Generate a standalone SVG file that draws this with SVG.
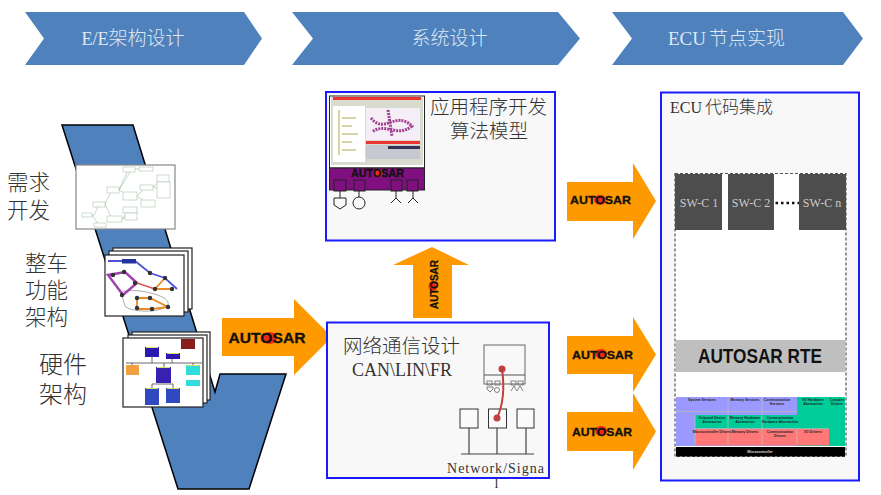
<svg xmlns="http://www.w3.org/2000/svg" width="881" height="495" viewBox="0 0 881 495">
<style>
text{font-family:"Liberation Serif","Noto Sans CJK SC",serif;fill:#333}
.zh{font-family:"Noto Sans CJK SC",sans-serif;font-weight:300}
.head{fill:#dfe8f2;font-size:19px}
.chev{fill:#4f81bd}
.arrow{fill:#ff9900}
.band{fill:#4f81bd;stroke:#000;stroke-width:1.5}
.panel{fill:#f8f8f8;stroke:#1a1aff;stroke-width:2}
.logo{font-family:"Liberation Sans",sans-serif;font-weight:700;fill:#111;stroke:#111;stroke-width:.3}
.swirl{fill:#ee2a1a}
.card{fill:#fff;stroke:#222;stroke-width:1.2}
.sw{fill:#4d4d4d}
.swt{fill:#ccc;font-size:12px}
.g{stroke:#9ab89a;stroke-width:.5;fill:#fff}
.k{stroke:#222;stroke-width:1;fill:none}
.port{stroke:#222;stroke-width:1;fill:#800f80}
.t6{font-size:3.500px;font-family:"Liberation Sans",sans-serif;font-weight:700;fill:#222}
</style>
<rect width="881" height="495" fill="#fff"/>
<g id="header-ee"><path class="chev" d="M25 12H244L262 38.500L244 65H25L44 38.500Z"/><text class="head" x="133" y="45" text-anchor="middle"><tspan font-size="18">E/E</tspan><tspan class="zh">架构设计</tspan></text></g>
<g id="header-sys"><path class="chev" d="M292 12H558L580 38.500L558 65H292L313 38.500Z"/><text class="head zh" x="449.500" y="45" text-anchor="middle">系统设计</text></g>
<g id="header-ecu"><path class="chev" d="M612 12H843L863 38.500L843 65H612L632 38.500Z"/><text class="head" x="668" y="45" font-size="18">ECU</text><text class="head zh" x="709" y="45">节点实现</text></g>

<g id="process-band">
<path class="band" d="M62 125H133L215 392L220 374H286L249 489H178Z"/>
</g>
<g id="req">
<rect x="76" y="165" width="99" height="64" fill="#fff" stroke="#888" stroke-width="1.2"/>
<path d="M92 215H94L99 205M92 215L99 225M105 204L112 190M105 204L112 219M119 190L128 170M119 190L130 196M119 190L130 172M122 219L130 210M122 219L130 216M135 169H139M137 196L146 187M137 196L147 203M153 187L163 178M153 187L163 190" fill="none" stroke="#8fb08f" stroke-width=".5"/>
<rect x="123" y="167" width="12" height="5" class="g"/><rect x="139" y="167" width="14" height="4" class="g"/><rect x="157" y="175" width="12" height="7" class="g"/><rect x="157" y="182" width="13" height="16" class="g"/><rect x="107" y="187" width="12" height="6" class="g"/><rect x="123" y="192" width="14" height="8" class="g"/><rect x="140" y="185" width="13" height="5" class="g"/><rect x="141" y="200" width="14" height="7" class="g"/><rect x="93" y="202" width="12" height="5" class="g"/><rect x="107" y="216" width="15" height="6" class="g"/><rect x="123" y="207" width="14" height="6" class="g"/><rect x="125" y="213" width="12" height="7" class="g"/><rect x="94" y="223" width="12" height="4" class="g"/><rect x="82" y="213" width="10" height="4" class="g"/>
<text class="zh" font-size="21.500"><tspan x="7" y="190">需求</tspan><tspan x="7" y="218">开发</tspan></text>
</g>
<g id="vehicle">
<rect x="113" y="248" width="79" height="61" class="card"/><rect x="109" y="251" width="79" height="61" class="card"/><rect x="105" y="255" width="79" height="61" class="card"/>
<path d="M122 296C118 290 130 290 140 291C155 293 170 298 168 305C160 314 130 312 125 306Z" fill="none" stroke="#aaa" stroke-width="1"/>
<path d="M108 261H135L150 273L165 278L177 289" fill="none" stroke="#5050dd" stroke-width="1.800"/>
<path d="M108 275L125 272L137 283L123 295Z" fill="none" stroke="#a040b0" stroke-width="2.500"/>
<path d="M137 283L155 289" fill="none" stroke="#dd5555" stroke-width="1.500"/>
<path d="M155 289H173M165 278L155 289" fill="none" stroke="#ee8822" stroke-width="1.800"/>
<path d="M137 298H150L168 307L152 309H137Z" fill="none" stroke="#ee8822" stroke-width="1.800"/>
<rect x="122" y="259" width="14" height="4.500" fill="#223399"/>
<g fill="#333"><circle cx="113" cy="275" r="2.200"/><circle cx="124" cy="272" r="2.200"/><circle cx="122" cy="295" r="2.200"/><circle cx="135" cy="283" r="2.200"/><circle cx="150" cy="273" r="2.200"/><circle cx="165" cy="278" r="2.200"/><circle cx="155" cy="289" r="2.200"/><circle cx="172" cy="289" r="2.200"/><circle cx="137" cy="298" r="2.200"/><circle cx="150" cy="298" r="2.200"/><circle cx="137" cy="308" r="2.200"/><circle cx="152" cy="309" r="2.200"/><circle cx="168" cy="307" r="2.200"/></g>
<text class="zh" font-size="21.500"><tspan x="25" y="271">整车</tspan><tspan x="25" y="298">功能</tspan><tspan x="25" y="325">架构</tspan></text>
</g>
<g id="hardware">
<rect x="132" y="332" width="78" height="68" class="card"/><rect x="128" y="335" width="79" height="68" class="card"/><rect x="123" y="338" width="80" height="69" class="card"/>
<path d="M126 363H202M152 363V357M172 363V359M132 363V365M193 363V365M164 363V367M152 388V384H173V388" fill="none" stroke="#444" stroke-width=".8"/>
<rect x="181" y="339" width="14" height="10" fill="#8a1c1c"/><rect x="145" y="347" width="14" height="10" fill="#2a18b0"/><rect x="166" y="353" width="14" height="6" fill="#2a18b0"/><rect x="126" y="365" width="13" height="10" fill="#f0a040"/><rect x="186" y="365" width="14" height="10" fill="#30dddd"/><rect x="186" y="380" width="14" height="6" fill="#30dddd"/><rect x="156" y="367" width="15" height="16" fill="#3a20b0"/><rect x="145" y="388" width="14" height="17" fill="#3048c0"/><rect x="166" y="388" width="14" height="15" fill="#3048c0"/>
<path d="M146 347.500H158M167 353.500H179M146 388.500H158M167 388.500H179M157 367.500H170M187 365.500H199" stroke="#d8e060" stroke-width="1.200"/>
<text class="zh" font-size="24"><tspan x="39" y="373">硬件</tspan><tspan x="39" y="403">架构</tspan></text>
</g>

<g id="arrow-main"><path class="arrow" d="M222 318H294V299L332 337L294 375V356H222Z"/><ellipse class="swirl" cx="270" cy="338" rx="7" ry="6"/><text class="logo" x="228.500" y="343" font-size="14" textLength="77" lengthAdjust="spacingAndGlyphs">AUTOSAR</text></g>

<g id="app-panel">
<rect class="panel" x="326" y="92" width="229" height="148.500"/>
<rect x="329.500" y="96" width="95" height="72" fill="#fff" stroke="#222" stroke-width="1"/>
<rect x="331" y="97" width="92" height="68" fill="#d8dccf"/>
<rect x="333" y="97" width="88" height="3" fill="#e33"/><rect x="333" y="106" width="32" height="56" fill="#fff"/><rect x="366" y="108" width="54" height="32" fill="#f6eef6"/><rect x="366" y="141" width="54" height="3" fill="#e33"/><rect x="366" y="145" width="54" height="14" fill="#c8c8d2"/><rect x="388" y="146" width="32" height="3" fill="#335"/>
<path d="M339 110V155M342 118H356M342 126H352M342 134H358M342 142H352M342 150H356" stroke="#c8c888" stroke-width="1.500"/>
<path d="M371 118C385 135 395 110 412 126C398 138 385 122 372 132M388 110L392 136" fill="none" stroke="#a04090" stroke-width="3" stroke-dasharray="2 1"/>
<rect x="329.500" y="168" width="95" height="22" fill="#800f80" stroke="#222"/>
<ellipse class="swirl" cx="378" cy="173" rx="5" ry="4"/>
<text class="logo" x="351" y="177" font-size="10" textLength="53" lengthAdjust="spacingAndGlyphs">AUTOSAR</text>
<rect class="port" x="334" y="180" width="12" height="11"/><rect class="port" x="354" y="180" width="11" height="11"/><rect class="port" x="391" y="180" width="11" height="11"/><rect class="port" x="407" y="180" width="11" height="11"/>
<path class="k" d="M340 191V198M334 198H346V205L340 209L334 205ZM359 191V197M396 191V198L391 203M396 198L401 203M413 191V198L408 203M413 198L418 203"/><circle class="k" cx="359" cy="203" r="6"/>
<text class="zh" font-size="19.500"><tspan x="430" y="114">应用程序开发</tspan><tspan x="450" y="138">算法模型</tspan></text>
</g>

<g id="arrow-up"><path class="arrow" d="M413 318V265H393L432 247L469 265H452V318Z"/><ellipse class="swirl" cx="433" cy="286" rx="4.500" ry="5"/><text class="logo" transform="translate(438 309) rotate(-90)" font-size="11" textLength="49" lengthAdjust="spacingAndGlyphs">AUTOSAR</text></g>

<g id="net-panel">
<rect class="panel" x="327" y="322.500" width="222" height="155.500"/>
<text class="zh" x="343" y="353" font-size="19.500">网络通信设计</text>
<text x="352" y="376" font-size="18" textLength="100" lengthAdjust="spacing">CAN\LIN\FR</text>
<rect x="484" y="345" width="41" height="39" fill="#f8f8f8" stroke="#666"/><path d="M484 375H525" stroke="#555"/>
<g fill="none" stroke="#666" stroke-width=".8"><rect x="487" y="381" width="5" height="4"/><rect x="495" y="381" width="5" height="4"/><rect x="511" y="381" width="5" height="4"/><rect x="518" y="381" width="5" height="4"/><path d="M487 387H493V389L490 392L487 389ZM514 386L511 391M514 386L517 391M520 386L517 391M520 386L523 391"/><circle cx="497" cy="390" r="2.500"/></g>
<g fill="#fafafa" stroke="#333" stroke-width="1"><rect x="460" y="409" width="18" height="19"/><rect x="488.500" y="409" width="18" height="19"/><rect x="517" y="409" width="17" height="19"/></g>
<path d="M469 428V454M497 428V454M526 428V454M461 454H534" fill="none" stroke="#444" stroke-width="1.200"/>
<path d="M502 369C505 390 503 405 497 418" fill="none" stroke="#c04040" stroke-width="2"/><circle cx="502" cy="369" r="3.500" fill="#c04040"/><circle cx="497" cy="418" r="3.500" fill="#c04040"/>
<text font-size="14"><tspan x="447" y="473" textLength="97">Network/Signa</tspan><tspan x="494.500" y="488">l</tspan></text>
</g>

<g id="arrow-1"><path class="arrow" d="M567 182H633V163L656 201L633 239V221H567Z"/><ellipse class="swirl" cx="600" cy="200" rx="6" ry="5"/><text class="logo" x="570" y="204" font-size="11.500" textLength="61" lengthAdjust="spacingAndGlyphs">AUTOSAR</text></g>
<g id="arrow-2"><path class="arrow" d="M567 336H633V317L656 354.500L633 392V374H567Z"/><ellipse class="swirl" cx="601" cy="354" rx="6" ry="5"/><text class="logo" x="572" y="358.500" font-size="11.500" textLength="61" lengthAdjust="spacingAndGlyphs">AUTOSAR</text></g>
<g id="arrow-3"><path class="arrow" d="M567 412H633V393L656 431.500L633 470V451H567Z"/><ellipse class="swirl" cx="601" cy="431" rx="6" ry="5"/><text class="logo" x="572" y="436" font-size="11.500" textLength="60" lengthAdjust="spacingAndGlyphs">AUTOSAR</text></g>

<g id="ecu-panel">
<rect class="panel" x="661" y="92.500" width="198" height="388"/>
<rect x="675" y="173.500" width="171" height="283" fill="#fff" stroke="#555" stroke-width="1.200" stroke-dasharray="3 2"/>
<text x="670" y="113" font-size="16">ECU</text><text class="zh" x="705" y="113" font-size="17">代码集成</text>
<rect class="sw" x="675" y="174" width="47" height="56"/><rect class="sw" x="728" y="174" width="46" height="56"/><rect class="sw" x="799" y="174" width="47" height="56"/>
<text class="swt" x="699" y="207" text-anchor="middle">SW-C 1</text><text class="swt" x="751" y="207" text-anchor="middle">SW-C 2</text><text class="swt" x="822" y="207" text-anchor="middle">SW-C n</text>
<path d="M775.500 203H799" stroke="#111" stroke-width="2.500" stroke-dasharray="2.500 3"/>
<rect x="675.500" y="340" width="170" height="32" fill="#bfbfbf"/>
<text x="698" y="363" font-size="20" font-weight="700" textLength="124" lengthAdjust="spacingAndGlyphs" style="font-family:'Liberation Sans',sans-serif;fill:#111">AUTOSAR RTE</text>
<rect x="676" y="397" width="169" height="49" fill="#9999ff"/>
<rect x="797" y="397" width="48" height="49" fill="#00cc99"/>
<rect x="695" y="415" width="102" height="13.500" fill="#00cc99"/>
<rect x="695" y="429" width="134" height="16.500" fill="#ff7777"/>
<path d="M676 411.500H797M728 397V445M762 397V445M797 429V445M695 415V445M695 428.700H829" stroke="#bbb" stroke-width=".8" fill="none"/>
<rect x="676" y="447" width="169" height="9.500" fill="#000"/>
<g text-anchor="middle">
<text class="t6" x="702" y="400.500">System Services</text><text class="t6" x="745" y="400.500">Memory Services</text><text class="t6"><tspan x="777" y="400.500">Communication</tspan><tspan x="777" y="404.500">Services</tspan></text>
<text class="t6"><tspan x="813" y="400.500">I/O Hardware</tspan><tspan x="813" y="404.500">Abstraction</tspan></text><text class="t6"><tspan x="837" y="400.500">Complex</tspan><tspan x="837" y="404.500">Drivers</tspan></text>
<text class="t6"><tspan x="712" y="419">Onboard Device</tspan><tspan x="712" y="423">Abstraction</tspan></text><text class="t6"><tspan x="745" y="419">Memory Hardware</tspan><tspan x="745" y="423">Abstraction</tspan></text><text class="t6"><tspan x="780" y="419">Communication</tspan><tspan x="780" y="423">Hardware Abstraction</tspan></text>
<text class="t6" x="712" y="433">Microcontroller Drivers</text><text class="t6" x="745" y="433">Memory Drivers</text><text class="t6"><tspan x="780" y="433">Communication</tspan><tspan x="780" y="437">Drivers</tspan></text><text class="t6" x="813" y="433">I/O Drivers</text>
<text class="t6" x="760" y="453" style="fill:#ddd">Microcontroller</text>
</g>
</g>
</svg>
